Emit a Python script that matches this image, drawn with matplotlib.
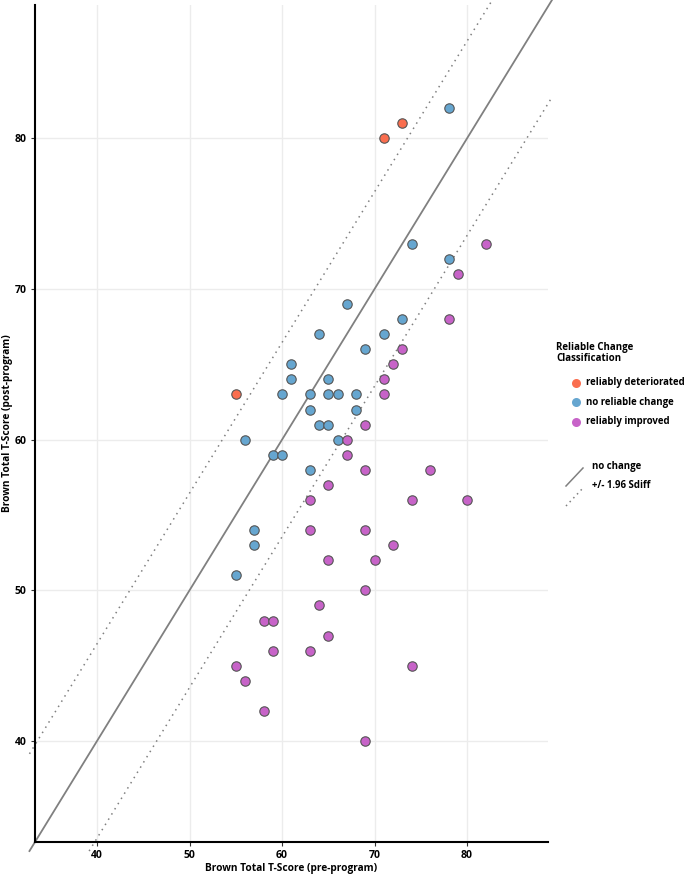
import matplotlib
matplotlib.use("Agg")
import matplotlib.pyplot as plt
from matplotlib.lines import Line2D
import numpy as np

plt.rcParams['font.family'] = ['Open Sans', 'DejaVu Sans']

# Data (pre, post) grouped by classification
det_pre = [55, 71, 73]
det_post = [63, 80, 81]

none_pre = [78, 74, 78, 67, 64, 71, 69, 61, 61, 65, 60, 63, 65, 66, 68, 63, 68,
            64, 65, 56, 66, 59, 60, 63, 73, 57, 57, 55]
none_post = [82, 73, 72, 69, 67, 67, 66, 65, 64, 64, 63, 63, 63, 63, 63, 62, 62,
             61, 61, 60, 60, 59, 59, 58, 68, 54, 53, 51]

imp_pre = [82, 79, 78, 73, 72, 71, 71, 69, 67, 67, 69, 76, 65, 63, 74, 80, 63, 69,
           72, 65, 70, 69, 64, 58, 59, 65, 59, 63, 55, 74, 56, 58, 69]
imp_post = [73, 71, 68, 66, 65, 64, 63, 61, 60, 59, 58, 58, 57, 56, 56, 56, 54, 54,
            53, 52, 52, 50, 49, 48, 48, 47, 46, 46, 45, 45, 44, 42, 40]

legend_labels = ["reliably deteriorated", "no reliable change", "reliably improved"]
colors = ["#FA6E4F", "#66A6D0", "#C763C8"]
sdiff_band = 6.45
x_ticks = [40, 50, 60, 70, 80]
y_ticks = [40, 50, 60, 70, 80]

fig = plt.figure(figsize=(6.85, 8.75), dpi=100)
ax = fig.add_axes([35/685, 33/875, (548-35)/685, (842-5)/875])

lo, hi = 33.3, 88.75
ax.set_xlim(lo, hi)
ax.set_ylim(lo, 88.85)

ax.grid(True, color="#ECECEC", linewidth=1.0)
ax.set_axisbelow(True)
ax.set_xticks(x_ticks)
ax.set_yticks(y_ticks)

# reference lines (extend slightly outside panel, unclipped)
l0, l1 = 32.7, 89.2
ax.plot([l0, l1], [l0, l1], color="#808080", lw=1.3, clip_on=False, zorder=2)
ax.plot([l0, l1 - sdiff_band], [l0 + sdiff_band, l1], color="#808080", lw=1.1,
        ls=(0, (1, 3)), clip_on=False, zorder=2)
ax.plot([l0 + sdiff_band, l1], [l0, l1 - sdiff_band], color="#808080", lw=1.1,
        ls=(0, (1, 3)), clip_on=False, zorder=2)

for xs, ys, c in [(det_pre, det_post, colors[0]), (none_pre, none_post, colors[1]),
                  (imp_pre, imp_post, colors[2])]:
    ax.scatter(xs, ys, s=46, c=c, edgecolors="#555555", linewidths=0.8, zorder=3)

for s in ["top", "right"]:
    ax.spines[s].set_visible(False)
for s in ["left", "bottom"]:
    ax.spines[s].set_linewidth(1.5)
    ax.spines[s].set_color("black")
ax.tick_params(axis="both", length=3, width=0.8, color="#333333", labelsize=7.5,
               labelcolor="black", pad=3)
for lab in ax.get_xticklabels() + ax.get_yticklabels():
    lab.set_fontweight("bold")

ax.set_xlabel("Brown Total T-Score (pre-program)", fontsize=7.3, fontweight="bold", labelpad=1)
ax.set_ylabel("Brown Total T-Score (post-program)", fontsize=7.3, fontweight="bold", labelpad=1)

# Legend (manual, in figure pixels)
W, H = 685, 875
def fx(px): return px / W
def fy(py): return 1 - py / H

fig.text(fx(556), fy(353), "Reliable Change\nClassification", fontsize=7.0,
         fontweight="bold", va="center", ha="left", linespacing=0.95)
for i, (lab, c) in enumerate(zip(legend_labels, colors)):
    yy = 383 + i * 19.5
    fig.add_artist(Line2D([fx(576)], [fy(yy)], marker="o", markersize=6.5,
                          color=c, markeredgewidth=0, linestyle="none"))
    fig.text(fx(586), fy(yy), lab, fontsize=6.9, fontweight="bold", va="center", ha="left")

fig.add_artist(Line2D([fx(566), fx(583)], [fy(486), fy(468)], color="#808080", lw=1.1))
fig.add_artist(Line2D([fx(566), fx(583)], [fy(506), fy(488)], color="#808080", lw=1.1,
                      ls=(0, (1, 2.5))))
fig.text(fx(592), fy(466), "no change", fontsize=6.9, fontweight="bold", va="center", ha="left")
fig.text(fx(592), fy(485), "+/- 1.96 Sdiff", fontsize=6.9, fontweight="bold", va="center", ha="left")

fig.savefig("out.png", dpi=100, facecolor="white")
